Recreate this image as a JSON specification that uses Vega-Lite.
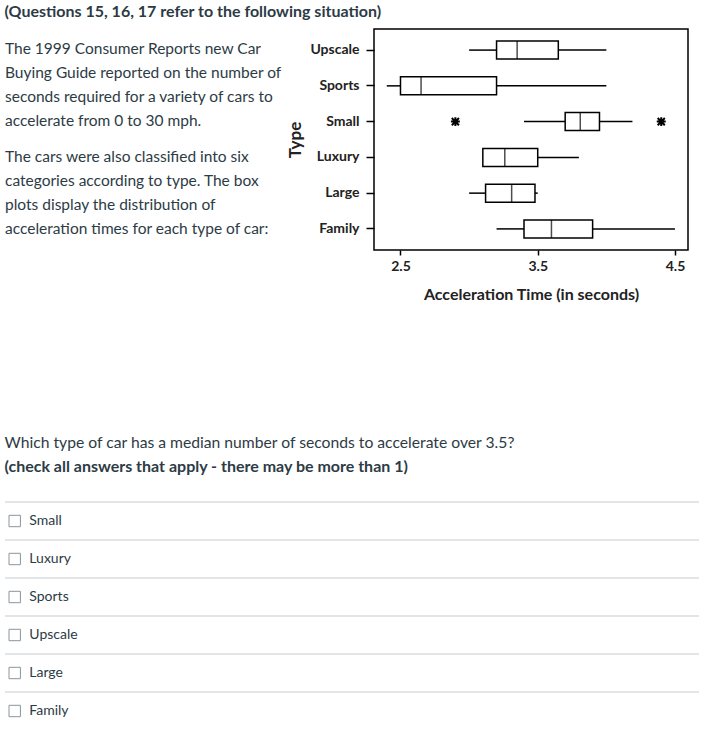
{
  "$schema": "https://vega.github.io/schema/vega-lite/v6.json",
  "padding": {"left": 4, "top": 4, "right": 0, "bottom": 0},
  "background": "white",
  "config": {"view": {"stroke": null}, "font": "Lato"},
  "datasets": {
    "boxes": [
      {"Type": "Upscale", "lower": 3.0, "q1": 3.2, "median": 3.35, "q3": 3.65, "upper": 4.0},
      {"Type": "Sports", "lower": 2.4, "q1": 2.5, "median": 2.65, "q3": 3.2, "upper": 4.0},
      {"Type": "Small", "lower": 3.4, "q1": 3.7, "median": 3.81, "q3": 3.95, "upper": 4.19},
      {"Type": "Luxury", "lower": 3.1, "q1": 3.1, "median": 3.26, "q3": 3.5, "upper": 3.8},
      {"Type": "Large", "lower": 3.0, "q1": 3.12, "median": 3.31, "q3": 3.48, "upper": 3.5},
      {"Type": "Family", "lower": 3.2, "q1": 3.4, "median": 3.6, "q3": 3.9, "upper": 4.5}
    ],
    "outliers": [
      {"Type": "Small", "value": 2.9},
      {"Type": "Small", "value": 4.4}
    ],
    "para1": [
      {"line": 1, "text": "The 1999 Consumer Reports new Car"},
      {"line": 2, "text": "Buying Guide reported on the number of"},
      {"line": 3, "text": "seconds required for a variety of cars to"},
      {"line": 4, "text": "accelerate from 0 to 30 mph."}
    ],
    "para2": [
      {"line": 1, "text": "The cars were also classified into six"},
      {"line": 2, "text": "categories according to type. The  box"},
      {"line": 3, "text": "plots display the distribution of"},
      {"line": 4, "text": "acceleration times for each type of car:"}
    ],
    "options": [
      {"option": "Small"},
      {"option": "Luxury"},
      {"option": "Sports"},
      {"option": "Upscale"},
      {"option": "Large"},
      {"option": "Family"}
    ]
  },
  "title": {
    "text": "(Questions 15, 16, 17 refer to the following situation)",
    "anchor": "start", "font": "Lato", "fontSize": 16, "fontWeight": "bold",
    "color": "#2d3b45", "offset": 8
  },
  "spacing": 131,
  "resolve": {"scale": {"x": "independent", "y": "independent"}},
  "vconcat": [
    {
      "spacing": 1,
      "resolve": {"scale": {"x": "independent", "y": "independent"}},
      "hconcat": [
        {
          "spacing": 4,
          "resolve": {"scale": {"x": "independent", "y": "independent"}},
          "vconcat": [
            {
              "width": 280, "height": 112,
              "data": {"name": "para1"},
              "mark": {"type": "text", "align": "left", "baseline": "middle", "font": "Lato", "fontSize": 15.5, "color": "#2d3b45"},
              "encoding": {
                "y": {"field": "line", "type": "ordinal", "scale": {"type": "band", "paddingInner": 0, "paddingOuter": 0.333}, "axis": null},
                "x": {"datum": 0, "type": "quantitative", "scale": {"domain": [0, 1]}, "axis": null},
                "text": {"field": "text"}
              }
            },
            {
              "width": 280, "height": 96,
              "data": {"name": "para2"},
              "mark": {"type": "text", "align": "left", "baseline": "middle", "font": "Lato", "fontSize": 15.5, "color": "#2d3b45"},
              "encoding": {
                "y": {"field": "line", "type": "ordinal", "scale": {"type": "band", "paddingInner": 0, "paddingOuter": 0}, "axis": null},
                "x": {"datum": 0, "type": "quantitative", "scale": {"domain": [0, 1]}, "axis": null},
                "text": {"field": "text"}
              }
            }
          ]
        },
        {
          "width": 314, "height": 221,
          "view": {"stroke": "black", "strokeWidth": 1.5},
          "encoding": {
            "y": {
              "field": "Type", "type": "nominal",
              "sort": ["Upscale", "Sports", "Small", "Luxury", "Large", "Family"],
              "scale": {"type": "band", "paddingInner": 0, "paddingOuter": 0.09},
              "axis": {
                "title": "Type", "domain": false, "grid": false, "tickSize": 8, "tickWidth": 1.5, "tickColor": "black",
                "labelFont": "Lato", "labelFontWeight": "bold", "labelFontSize": 14, "labelColor": "#222", "labelPadding": 7,
                "titleFont": "Lato", "titleFontWeight": "bold", "titleFontSize": 17, "titleColor": "#222", "titlePadding": 5
              }
            }
          },
          "layer": [
            {
              "data": {"name": "boxes"},
              "mark": {"type": "rule", "color": "black", "strokeWidth": 1.5},
              "encoding": {
                "x": {
                  "field": "lower", "type": "quantitative",
                  "scale": {"domain": [2.307, 4.595], "nice": false, "zero": false},
                  "axis": {
                    "title": "Acceleration Time (in seconds)", "values": [2.5, 3.5, 4.5], "format": ".1f",
                    "domain": false, "grid": false, "tickSize": 5, "tickWidth": 1.5, "tickColor": "black",
                    "labelFont": "Lato", "labelFontWeight": "bold", "labelFontSize": 14, "labelColor": "#222", "labelPadding": 4,
                    "titleFont": "Lato", "titleFontWeight": "bold", "titleFontSize": 16, "titleColor": "#222", "titlePadding": 13
                  }
                },
                "x2": {"field": "q1"}
              }
            },
            {
              "data": {"name": "boxes"},
              "mark": {"type": "rule", "color": "black", "strokeWidth": 1.5},
              "encoding": {
                "x": {"field": "q3", "type": "quantitative"},
                "x2": {"field": "upper"}
              }
            },
            {
              "data": {"name": "boxes"},
              "mark": {"type": "bar", "fill": "white", "stroke": "black", "strokeWidth": 1.5, "size": 18},
              "encoding": {
                "x": {"field": "q1", "type": "quantitative"},
                "x2": {"field": "q3"}
              }
            },
            {
              "data": {"name": "boxes"},
              "mark": {"type": "tick", "color": "black", "thickness": 1.5, "size": 18, "orient": "vertical"},
              "encoding": {
                "x": {"field": "median", "type": "quantitative"}
              }
            },
            {
              "data": {"name": "outliers"},
              "mark": {"type": "point", "shape": "M-1,0L1,0M0,-1L0,1M-0.8,-0.8L0.8,0.8M-0.8,0.8L0.8,-0.8", "filled": false, "stroke": "black", "strokeWidth": 2, "size": 80, "opacity": 1},
              "encoding": {
                "x": {"field": "value", "type": "quantitative"}
              }
            }
          ]
        }
      ]
    },
    {
      "width": 694, "height": 228,
      "title": {
        "text": "Which type of car has a median number of seconds to accelerate over 3.5?",
        "subtitle": "(check all answers that apply - there may be more than 1)",
        "anchor": "start", "font": "Lato", "fontSize": 15.7, "fontWeight": "normal", "color": "#2d3b45",
        "subtitleFont": "Lato", "subtitleFontSize": 16, "subtitleFontWeight": "bold", "subtitleColor": "#2d3b45",
        "subtitlePadding": 7, "offset": 26
      },
      "data": {"name": "options"},
      "encoding": {
        "y": {"field": "option", "type": "nominal", "sort": null, "scale": {"type": "band", "paddingInner": 0, "paddingOuter": 0}, "axis": null}
      },
      "layer": [
        {
          "mark": {"type": "rule", "color": "#c7cdd1", "strokeWidth": 1},
          "encoding": {
            "y": {"field": "option", "type": "nominal", "sort": null, "bandPosition": 0}
          }
        },
        {
          "mark": {"type": "point", "shape": "square", "filled": false, "stroke": "#8a949b", "strokeWidth": 1, "size": 130, "opacity": 1},
          "encoding": {
            "x": {"datum": 1.4, "type": "quantitative", "scale": {"domain": [0, 100]}, "axis": null}
          }
        },
        {
          "mark": {"type": "text", "align": "left", "baseline": "middle", "font": "Lato", "fontSize": 14, "color": "#2d3b45"},
          "encoding": {
            "x": {"datum": 3.5, "type": "quantitative"},
            "text": {"field": "option"}
          }
        }
      ]
    }
  ]
}
